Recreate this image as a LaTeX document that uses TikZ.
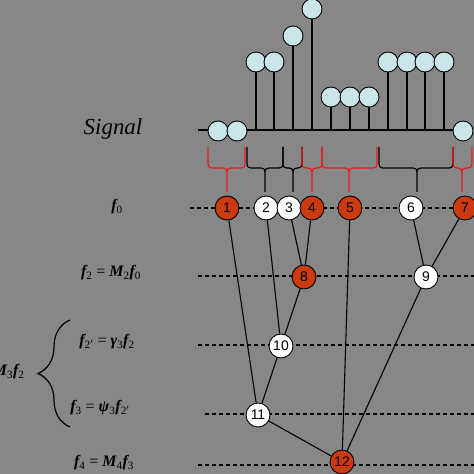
\documentclass[tikz,border=0pt]{standalone}
\usepackage{fontspec}
\setmainfont{Liberation Serif}
\newfontfamily\numfont{Liberation Sans}
\usetikzlibrary{decorations.pathreplacing}

\definecolor{bggray}{RGB}{135,135,135}
\definecolor{keepred}{RGB}{204,58,16}
\definecolor{sampleblue}{RGB}{202,230,234}
\definecolor{bracered}{RGB}{232,28,28}

\newcommand{\fv}{\textbf{\textit{f}}}
\newcommand{\lsub}[1]{\textsubscript{\normalfont #1}}

\begin{document}
\begin{tikzpicture}[x=1bp, y=-1bp,
		sample/.style={circle, draw, fill=sampleblue, line width=0.9bp, minimum size=20bp, inner sep=0pt},
		stem/.style={line width=1.2bp},
		level/.style={dashed, dash pattern=on 4bp off 3bp, line width=1.1bp},
		kept/.style={circle, draw, line width=0.9bp, fill=keepred, minimum size=24bp, inner sep=0pt, font=\numfont\fontsize{14}{14}\selectfont},
		dropped/.style={kept, fill=white},
		merge/.style={line width=1.1bp},
		lbl/.style={font=\fontsize{16}{18}\selectfont\bfseries\itshape},
		grp/.style={line width=1.2bp}
	]
		\clip (0,0) rectangle (474,474);
		\fill[bggray] (0,0) rectangle (474,474);

		% signal
		\coordinate (base0) at (198,130);
		\coordinate (base1) at (463,130);
		\draw[stem] (base0) -- (base1);
		\foreach \i/\x/\y in {3/256/62, 4/274/62, 5/293/36, 6/312/9, 7/331/97, 8/350/97, 9/369/97, 10/388/62, 11/407/62, 12/425/62, 13/444/62} {
			\node[sample] (s\i) at (\x,\y) {};
			\draw[stem] (\x,130) -- (s\i.south);
		}
		\node[sample] (s1) at (218,131) {};
		\node[sample] (s2) at (237,131) {};
		\node[sample] (s14) at (463,131) {};

		% groups
		\foreach \l/\t/\r/\c in {208/227/245/bracered, 247/265/283/black, 283/293/302/black, 302/312/322/bracered, 322/349/377/bracered, 379/417/453/black, 453/462/472/bracered}
			\draw[grp, \c] (\l,147) -- (\l,160) .. controls (\l,167) .. (\l+4,168) -- (\t-4,168) .. controls (\t,169) .. (\t,176) -- (\t,192)
				(\t,176) .. controls (\t,169) .. (\t+4,168) -- (\r-4,168) .. controls (\r,167) .. (\r,160) -- (\r,147);

		% levels
		\draw[level] (190,208) -- (474,208);
		\draw[level] (198,276) -- (474,276);
		\draw[level] (198,345) -- (474,345);
		\draw[level] (205,414) -- (474,414);
		\draw[level] (198,465) -- (474,465);

		\node[kept] (n1) at (227,208) {1};
		\node[dropped] (n2) at (266,208) {2};
		\node[dropped] (n3) at (289,208) {3};
		\node[kept] (n4) at (312,208) {4};
		\node[kept] (n5) at (350,208) {5};
		\node[dropped] (n6) at (411,208) {6};
		\node[kept] (n7) at (465,208) {7};
		\node[kept] (n8) at (304,277) {8};
		\node[dropped] (n9) at (426,277) {9};
		\node[dropped] (n10) at (281,346) {10};
		\node[dropped] (n11) at (258,415) {11};
		\node[kept] (n12) at (342,462) {12};

		\draw[merge] (n1) -- (n11);
		\draw[merge] (n2) -- (n10);
		\draw[merge] (n3) -- (n8);
		\draw[merge] (n4) -- (n8);
		\draw[merge] (n5) -- (n12);
		\draw[merge] (n6) -- (n9);
		\draw[merge] (n7) -- (n9);
		\draw[merge] (n8) -- (n10);
		\draw[merge] (n10) -- (n11);
		\draw[merge] (n11) -- (n12);
		\draw[merge] (n9) -- (n12);

		% labels
		\node[font=\fontsize{23}{26}\selectfont\itshape] (sig) at (113,129) {Signal};
		\node[lbl] (l0) at (117,207) {\fv\lsub{0}};
		\node[lbl] (l2) at (111,273) {\fv\lsub{2} \textnormal{=} \textit{M}\lsub{2}\fv\lsub{0}};
		\node[lbl] (l2p) at (107,342) {\fv\lsub{2$'$} \textnormal{=} \textit{γ}\lsub{3}\fv\lsub{2}};
		\node[lbl] (l3) at (100,408) {\fv\lsub{3} \textnormal{=} \textit{ψ}\lsub{3}\fv\lsub{2$'$}};
		\node[lbl] (l4) at (104,463) {\fv\lsub{4} \textnormal{=} \textit{M}\lsub{4}\fv\lsub{3}};
		\node[lbl, anchor=east] (l3m) at (28,372) {\textit{M}\lsub{3}\fv\lsub{2}};
		\draw[line width=1.2bp, decorate, decoration={brace, amplitude=32bp, aspect=0.5}] (70,427) -- (70,320);
	\end{tikzpicture}
\end{document}
